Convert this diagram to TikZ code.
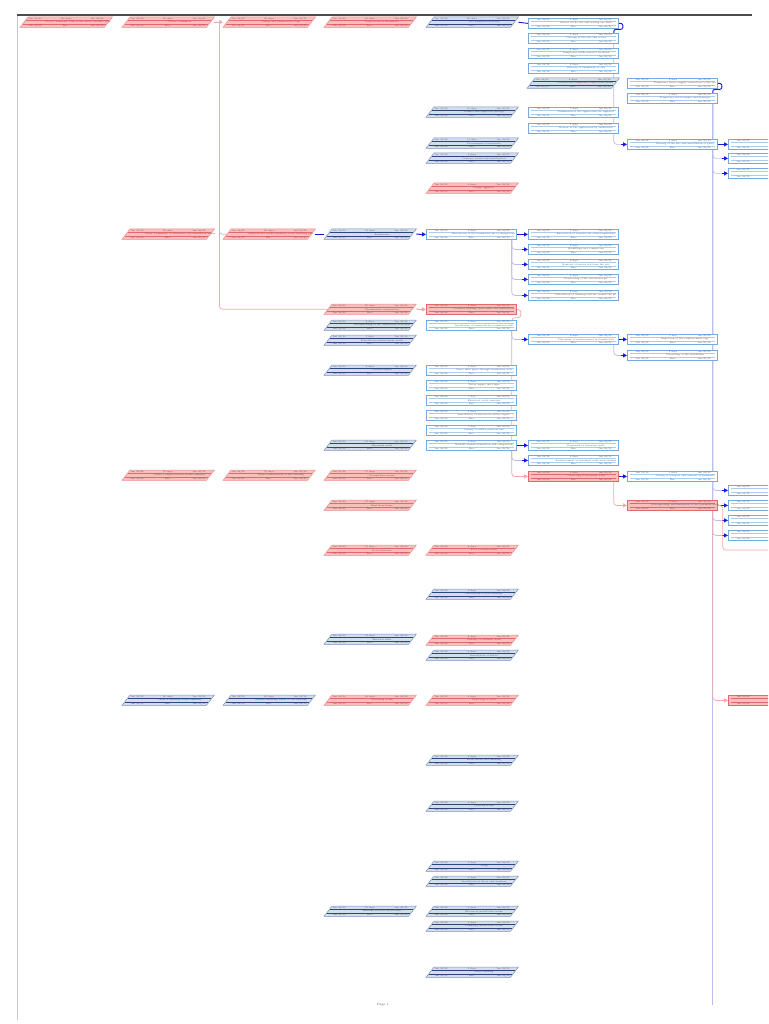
\documentclass[tikz,border=0pt]{standalone}
\usetikzlibrary{arrows.meta,backgrounds}
\definecolor{rfill}{HTML}{F9BEBE}
\definecolor{rline}{HTML}{EE8C8C}
\definecolor{rdark}{HTML}{E06A6A}
\definecolor{bfill}{HTML}{D3DDEC}
\definecolor{bline}{HTML}{7D93BC}
\definecolor{navy}{HTML}{2C477A}
\definecolor{tblue}{HTML}{74AADF}
\definecolor{tlite}{HTML}{AACBEA}
\definecolor{lav}{HTML}{BCBCF2}
\definecolor{pinkl}{HTML}{F4A8A8}
\definecolor{arrb}{HTML}{1818E0}
\definecolor{txtc}{HTML}{505050}
\tikzset{
 anc/.style={inner sep=0pt, minimum width=#1, minimum height=10pt, anchor=north west},
 txt/.style={inner sep=0pt, font=\fontsize{2.2}{2.4}\selectfont, text=txtc},
 lavline/.style={draw=lav, line width=0.7pt, rounded corners=3pt},
 pinkline/.style={draw=pinkl, line width=0.7pt, rounded corners=3pt},
 bar/.style={-{Triangle[length=4pt,width=4pt]}, draw=arrb, fill=arrb, line width=1pt},
 pbar/.style={-{Triangle[length=4pt,width=4pt]}, draw=pinkl, fill=pinkl, line width=1pt},
 bln/.style={draw=arrb, line width=0.9pt, rounded corners=2pt},
}
\newcommand\lefttxt[1]{%
 \node[txt] at ([shift={(15pt,-2.2pt)}]#1.north west) {Jan 03/23};
 \node[txt] at ([shift={(15pt,-8.7pt)}]#1.north west) {Jan 03/23};}
\newcommand\rowtxt[3]{%
 \lefttxt{#1}
 \node[txt] at ([shift={(46pt,-2.2pt)}]#1.north west) {#3};
 \node[txt] at ([shift={(77pt,-2.2pt)}]#1.north west) {Jan 09/23};
 \node[txt] at ([shift={(58pt,-5.4pt)}]#1.north west) {#2};
 \node[txt] at ([shift={(46pt,-8.7pt)}]#1.north west) {Res.:};
 \node[txt] at ([shift={(77pt,-8.7pt)}]#1.north west) {Jan 09/23};}
\newcommand\RTshape[1]{%
 \draw[tlite, line width=0.5pt] ([shift={(2.5pt,-3.7pt)}]#1.north west) -- ([shift={(-2.5pt,-3.7pt)}]#1.north east);
 \draw[tlite, line width=0.5pt] ([shift={(2.5pt,-7pt)}]#1.north west) -- ([shift={(-2.5pt,-7pt)}]#1.north east);}
\newcommand\RT[5]{%
 \node[anc=90pt, draw=tblue, line width=0.8pt, fill=white] (#1) at (#2,#3) {};
 \RTshape{#1}\rowtxt{#1}{#4}{#5}}
% task box cut by the right edge: only its visible left texts
\newcommand\RTE[3]{%
 \node[anc=90pt, draw=tblue, line width=0.8pt, fill=white] (#1) at (#2,#3) {};
 \RTshape{#1}\lefttxt{#1}}
\newcommand\RCshape[1]{%
 \draw[rdark, line width=0.5pt] ([shift={(2.5pt,-3.7pt)}]#1.north west) -- ([shift={(-2.5pt,-3.7pt)}]#1.north east);
 \draw[rdark, line width=0.5pt] ([shift={(2.5pt,-7pt)}]#1.north west) -- ([shift={(-2.5pt,-7pt)}]#1.north east);}
\newcommand\RC[5]{%
 \node[anc=90pt, draw=rdark, line width=0.8pt, fill=rfill] (#1) at (#2,#3) {};
 \RCshape{#1}\rowtxt{#1}{#4}{#5}}
\newcommand\RCE[3]{%
 \node[anc=90pt, draw=rdark, line width=0.8pt, fill=rfill] (#1) at (#2,#3) {};
 \RCshape{#1}\lefttxt{#1}}
\newcommand\BP[5]{%
 \node[anc=92pt] (#1) at (#2,#3) {};
 \filldraw[fill=bfill, draw=bline, line width=0.5pt] ([xshift=8pt]#1.north west) -- (#1.north east) -- ([xshift=-8pt]#1.south east) -- (#1.south west) -- cycle;
 \draw[navy, line width=0.9pt] ([shift={(6pt,-3.7pt)}]#1.north west) -- ([shift={(-3pt,-3.7pt)}]#1.north east);
 \draw[navy, line width=0.9pt] ([shift={(3pt,-7pt)}]#1.north west) -- ([shift={(-6pt,-7pt)}]#1.north east);
 \rowtxt{#1}{#4}{#5}}
\newcommand\RP[5]{%
 \node[anc=92pt] (#1) at (#2,#3) {};
 \filldraw[fill=rfill, draw=rline, line width=0.5pt] ([xshift=8pt]#1.north west) -- (#1.north east) -- ([xshift=-8pt]#1.south east) -- (#1.south west) -- cycle;
 \draw[rdark, line width=0.5pt] ([shift={(6pt,-3.7pt)}]#1.north west) -- ([shift={(-3pt,-3.7pt)}]#1.north east);
 \draw[rdark, line width=0.5pt] ([shift={(3pt,-7pt)}]#1.north west) -- ([shift={(-6pt,-7pt)}]#1.north east);
 \rowtxt{#1}{#4}{#5}}
\newcommand\drop[4]{%
 \draw[#1] ([xshift=-5pt]#2.south east) |- ([xshift=-6pt]#3.west);
 \draw[#4] ([xshift=-6pt]#3.west) -- (#3.west);}
\begin{document}
\begin{tikzpicture}[x=1pt,y=-1pt]
\useasboundingbox (0,0) rectangle (768,1024);
\clip (0,0) rectangle (768,1024);
% frame
\coordinate (tl) at (17,15);
\coordinate (tr) at (752,15);
\coordinate (bl) at (17,1020);
\draw[gray!45, line width=0.6pt] (tl) -- (bl);
\draw[black!70, line width=1.6pt] (tl) -- (tr);
% column 1-5 top row
\RP{n1}{20}{17}{Project summary task of the whole schedule plan}{180 days}
\RP{n2}{122}{17}{Phase 1 summary}{60 days}
\RP{n3}{223}{17}{Design and preparation stage}{45 days}
\RP{n4}{324}{17}{Preparation of documents}{30 days}
\BP{n5}{426}{17}{Site preparation works}{20 days}
\RT{n6}{528}{18}{Survey of the site and setting out lines}{3 days}
\RT{n7}{528}{33}{Clearing of the site and access}{5 days}
\RT{n8}{528}{48}{Temporary works and site facilities}{4 days}
\RT{n9}{528}{63}{Delivery of equipment to site}{2 days}
\BP{n10}{527}{78}{Utilities and temporary connections works}{6 days}
\RT{n11}{627}{78}{Temporary power supply connection to the site}{3 days}
\RT{n12}{627}{93}{Temporary water supply and drainage}{3 days}
\BP{n13}{426}{107}{Permits and approvals package}{10 days}
\RT{n14}{528}{107}{Submission of the application for approval}{5 days}
\RT{n15}{528}{123}{Review of the application by authorities}{5 days}
\BP{n16}{426}{138}{Procurement of materials}{15 days}
\BP{n17}{426}{153}{Contract award and mobilisation}{8 days}
\RP{n18}{426}{183}{Design approval}{0 days}
\RT{n19}{627}{139}{Fencing of the site and installation of gates}{4 days}
\RTE{n20}{728}{139}
\RTE{n21}{728}{153}
\RTE{n22}{728}{168}
% second block
\RP{n23}{122}{229}{Phase 2 summary of structural and foundation works}{90 days}
\RP{n24}{223}{229}{Substructure works summary of the building part}{40 days}
\BP{n25}{324}{229}{Earthworks}{12 days}
\RT{n26}{426}{229}{Excavation of the foundation pit to design level}{6 days}
\RT{n27}{528}{229}{Excavation of trenches for strip foundations}{3 days}
\RT{n28}{528}{244}{Backfilling and compaction}{2 days}
\RT{n29}{528}{259}{Removal of excess soil from the site}{2 days}
\RT{n30}{528}{274}{Dewatering of the excavation pit}{3 days}
\RT{n31}{528}{290}{Installation of drainage system around the pit}{2 days}
\RP{n32}{324}{304}{Foundations construction}{20 days}
\RC{n33}{426}{304}{Concrete blinding layer under the foundations}{2 days}
\BP{n34}{324}{320}{Waterproofing of the foundation structures}{6 days}
\RT{n35}{426}{320}{Installation of formwork for foundation slab}{3 days}
\BP{n36}{324}{335}{Foundation reinforcement works}{5 days}
\RT{n37}{528}{334}{Placement of reinforcement in foundations}{4 days}
\RT{n38}{627}{334}{Inspection of the reinforcement cage}{1 day}
\RT{n39}{627}{350}{Concreting of the foundation}{2 days}
\BP{n40}{324}{365}{Utilities inputs}{6 days}
\RT{n41}{426}{365}{Sewer inlet pipes through foundation wall}{2 days}
\RT{n42}{426}{380}{Water supply inlet pipe}{2 days}
\RT{n43}{426}{395}{Electrical cable conduits}{1 day}
\RT{n44}{426}{410}{Installation of sleeves for utility inputs}{2 days}
\RT{n45}{426}{425}{Sealing of utility penetrations}{1 day}
\RT{n46}{426}{440}{Backfill around foundation and compaction}{3 days}
\BP{n47}{324}{440}{Basement walls}{14 days}
\RT{n48}{528}{440}{Formwork of basement walls}{4 days}
\RT{n49}{528}{455}{Reinforcement of basement walls and columns}{4 days}
\RC{n50}{528}{471}{Concreting of basement walls}{3 days}
\RT{n51}{627}{471}{Curing of concrete and removal of formwork}{5 days}
\RC{n52}{627}{500}{Waterproofing and insulation of the basement walls}{4 days}
\RTE{n53}{728}{485}
\RTE{n54}{728}{500}
\RTE{n55}{728}{515}
\RTE{n56}{728}{530}
% third block
\RP{n57}{122}{470}{Phase 3 superstructure works summary}{70 days}
\RP{n58}{223}{470}{Frame construction of the building}{50 days}
\RP{n59}{324}{470}{Ground floor frame}{15 days}
\RP{n60}{324}{500}{First floor frame}{15 days}
\RP{n61}{324}{545}{Roof structure}{10 days}
\RP{n62}{426}{545}{Roof covering works}{8 days}
\BP{n63}{426}{589}{Installation of roof drainage}{4 days}
\BP{n64}{324}{634}{External walls}{12 days}
\RP{n65}{426}{635}{Masonry of external walls}{8 days}
\BP{n66}{426}{650}{Installation of lintels}{3 days}
\BP{n67}{122}{695}{Phase 4 finishing works summary}{60 days}
\BP{n68}{223}{695}{Internal finishing works of the building}{40 days}
\RP{n69}{324}{695}{Plastering works}{10 days}
\RP{n70}{426}{695}{Plastering of walls}{6 days}
\RCE{n71}{728}{695}
\BP{n72}{426}{755}{Floor screed and finishing}{8 days}
\BP{n73}{426}{801}{Painting works}{6 days}
\BP{n74}{426}{861}{Tiling}{5 days}
\BP{n75}{426}{876}{Installation of doors and windows}{5 days}
\BP{n76}{426}{906}{Electrical installation works}{6 days}
\BP{n77}{426}{921}{Plumbing installation works}{6 days}
\BP{n78}{426}{967}{Final cleaning}{2 days}
\BP{n79}{324}{906}{Building services installation}{15 days}
\node[txt, font=\fontsize{3}{3.5}\selectfont] (pg) at (383,1005) {Page 1};
\coordinate (redge) at (768,550);
\begin{scope}[on background layer]
\fill[white] (0,0) rectangle (768,1024);
% connectors
\draw[pbar] (n2.east) -- (n3.west);
\draw[pinkline] ([xshift=5pt]n2.east) |- ([xshift=4pt]n32.west);
\draw[lavline] ([xshift=5pt]n2.east) |- ([xshift=4pt]n24.west);
\draw[bln] (n5.east) -- (n6.west);
\draw[bln] (n6.east) -- ++(4,0) -- ++(0,6) -| ([xshift=-5pt]n7.north east);
\drop{lavline}{n7}{n19}{bar}
\draw[bln] (n11.east) -- ++(4,0) -- ++(0,6) -| ([xshift=-5pt]n12.north east);
\draw[bar] (n19.east) -- (n20.west);
\draw[lavline] ([xshift=-5pt]n12.south east) -- ([xshift=-5pt]n12.south east |- pg);
\drop{lavline}{n12}{n21}{bar}
\drop{lavline}{n12}{n22}{bar}
\drop{lavline}{n12}{n53}{bar}
\drop{lavline}{n12}{n55}{bar}
\drop{lavline}{n12}{n56}{bar}
\draw[bln] (n24.east) -- (n25.west);
\draw[bar] (n25.east) -- (n26.west);
\draw[bar] (n26.east) -- (n27.west);
\drop{lavline}{n26}{n28}{bar}
\drop{lavline}{n26}{n29}{bar}
\drop{lavline}{n26}{n30}{bar}
\drop{lavline}{n26}{n31}{bar}
\draw[pbar] (n32.east) -- (n33.west);
\draw[pinkline] (n33.east) -- ++(4,0) |- ([shift={(-5pt,-3pt)}]n33.south east) |- ([xshift=-6pt]n50.west);
\draw[pbar] ([xshift=-6pt]n50.west) -- (n50.west);
\drop{lavline}{n35}{n37}{bar}
\draw[bar] (n37.east) -- (n38.west);
\drop{lavline}{n37}{n39}{bar}
\draw[bar] (n46.east) -- (n48.west);
\drop{lavline}{n46}{n49}{bar}
\draw[bar] (n50.east) -- (n51.west);
\drop{pinkline}{n50}{n52}{pbar}
\draw[bar] (n52.east) -- (n54.west);
\draw[pinkline] (n52.east) -- ++(5,0) |- (redge);
\drop{pinkline}{n52}{n71}{pbar}
\end{scope}
\end{tikzpicture}
\end{document}
